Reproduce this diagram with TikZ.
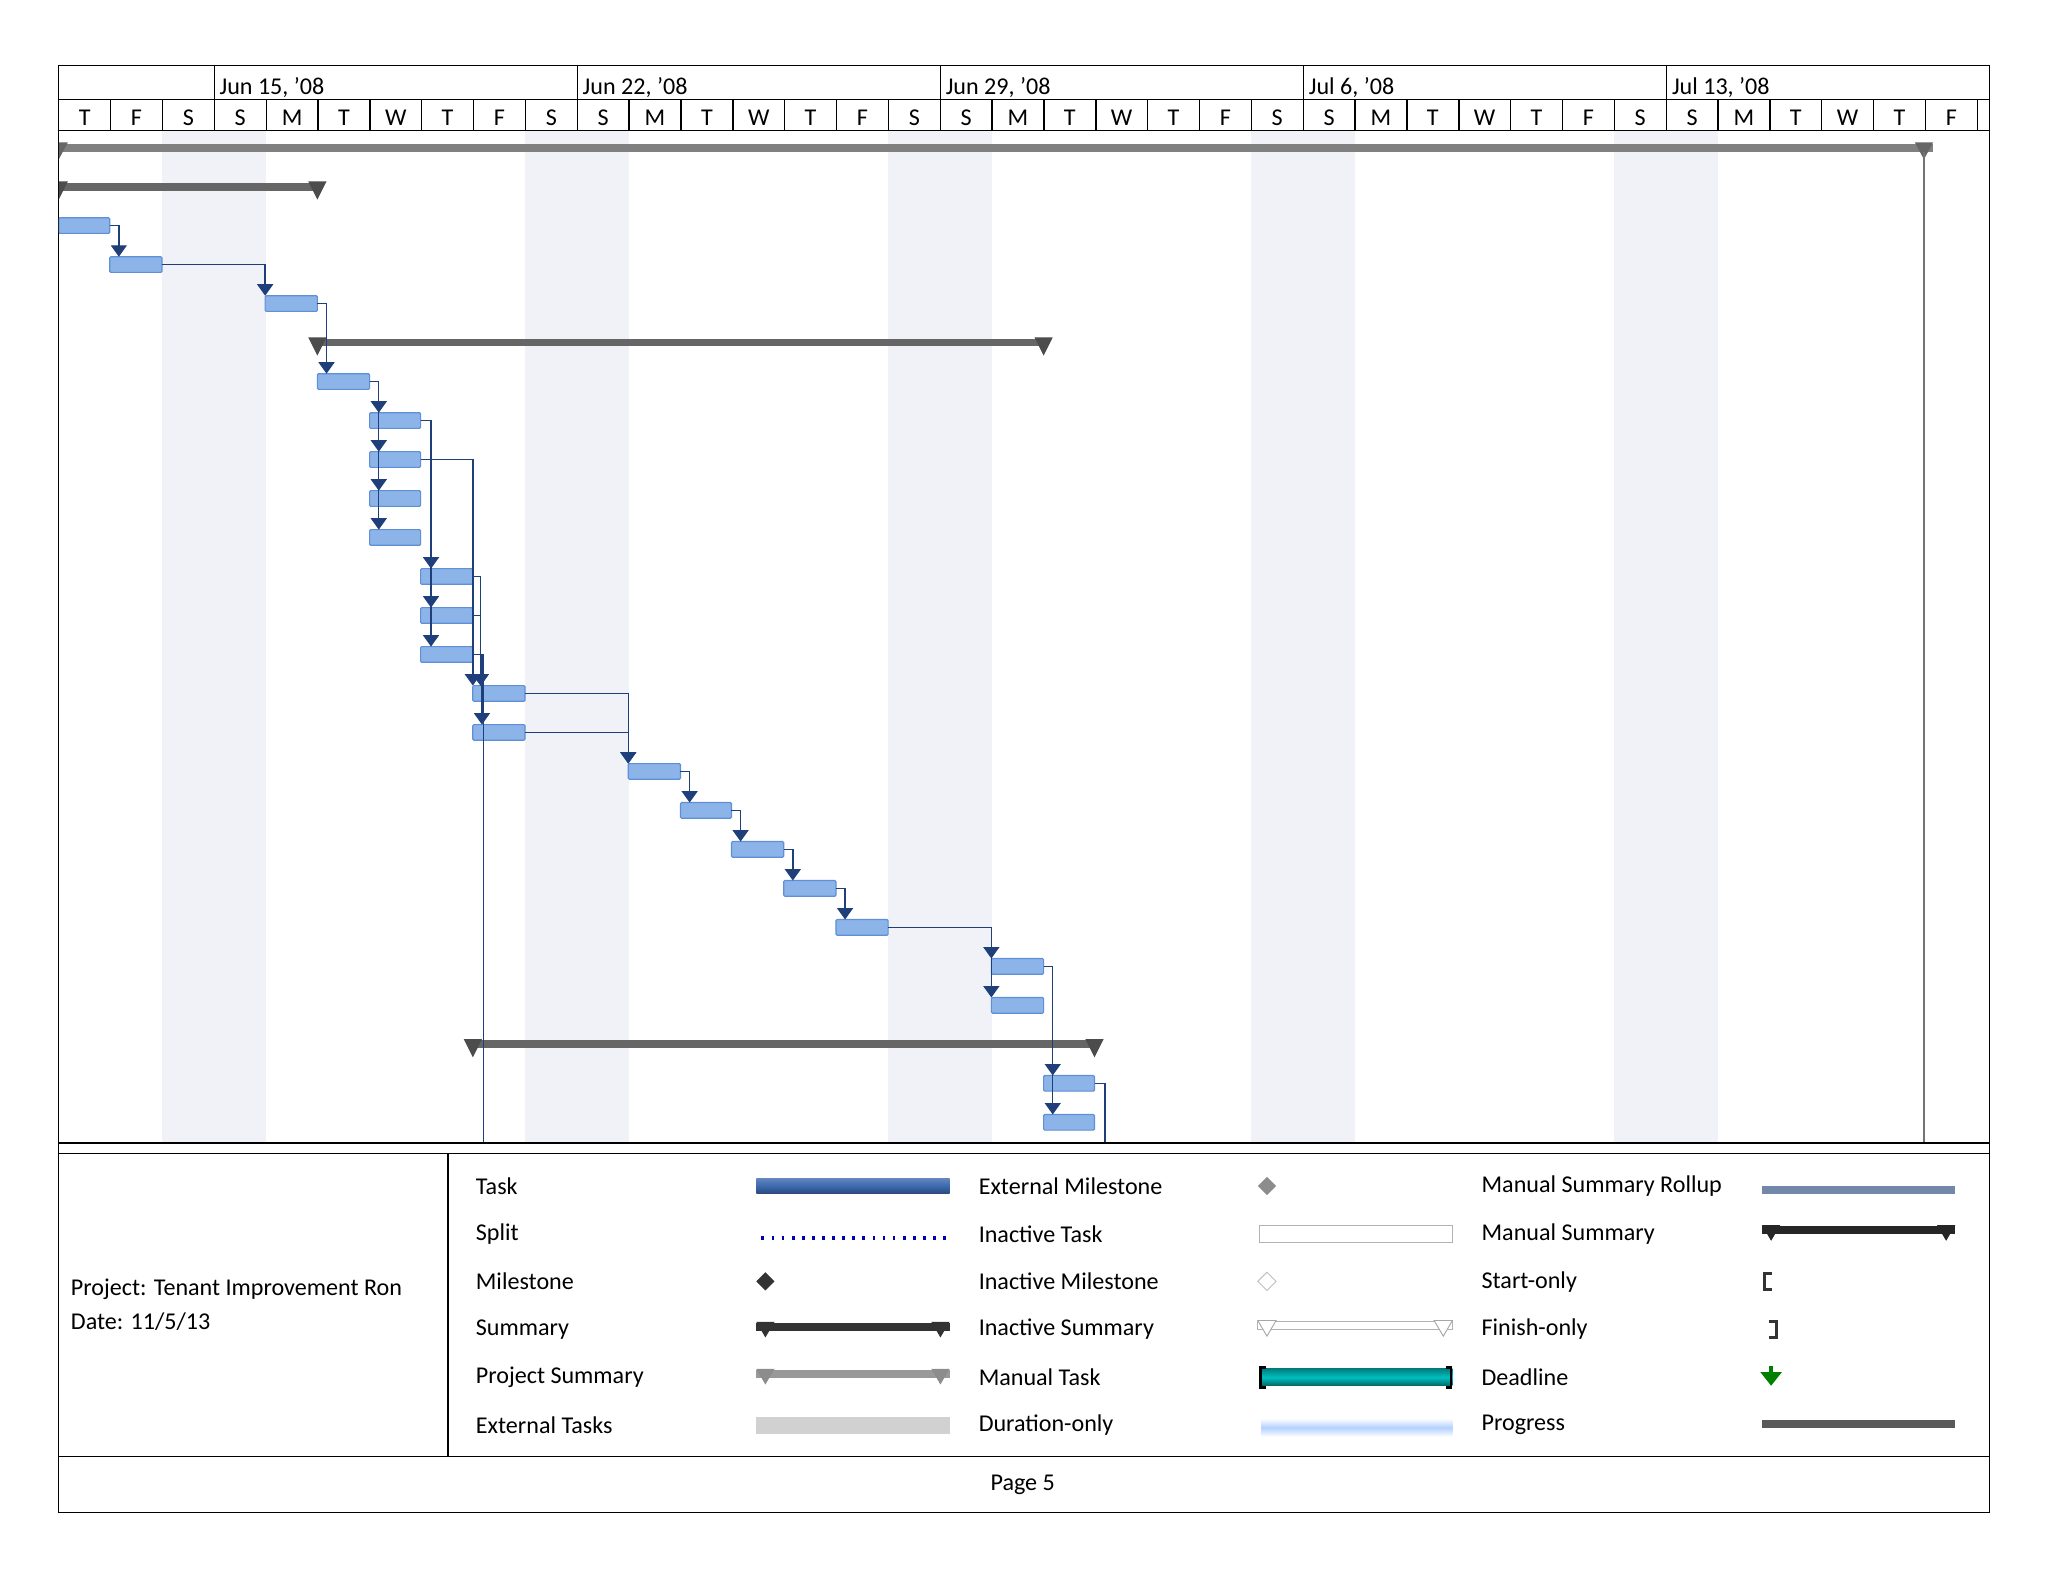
\documentclass[tikz,border=0pt]{standalone}
\usepackage{fontspec}
\setmainfont{Carlito}
\usetikzlibrary{arrows.meta}
\definecolor{taskfill}{HTML}{8DB4E8}
\definecolor{taskdraw}{HTML}{5F8FD6}
\definecolor{linkcol}{HTML}{1F3F7A}
\definecolor{wkendcol}{HTML}{F0F2F8}
\definecolor{legtask}{HTML}{3C68AE}
\definecolor{rollup}{HTML}{7388A8}
\begin{document}
\begin{tikzpicture}[x=0.02cm,y=-0.02cm,font=\fontsize{10.5}{12}\selectfont]
	 \tikzset{
	 	taskbar/.style={fill=taskfill, draw=taskdraw, line width=0.5pt, rounded corners=0.5pt},
	 	link/.style={draw=linkcol, line width=0.6pt, -{Triangle[width=7pt,length=5pt]}},
	 	grid line/.style={black, line width=0.6pt}
	 }
	 \def\ry#1{(113+29.85*#1)}
	 \newcommand\task[3]{\draw[taskbar] (#2,{\ry{#1}-6}) rectangle (#3,{\ry{#1}+6});}
	 \newcommand\summ[3]{
	 	\fill[black!60] (#2,{\ry{#1}-3}) rectangle (#3,{\ry{#1}+3});
	 	\fill[black!70] (#2-7,{\ry{#1}-4}) -- (#2+7,{\ry{#1}-4}) -- (#2,{\ry{#1}+10}) -- cycle;
	 	\fill[black!70] (#3-7,{\ry{#1}-4}) -- (#3+7,{\ry{#1}-4}) -- (#3,{\ry{#1}+10}) -- cycle;}
	 \newcommand\lnk[4]{\draw[link] (#2,{\ry{#1}}) -| (#3,{\ry{#4}-6});}
 
	 \useasboundingbox (0,0) rectangle (1568,1208);
	 % weekend shading
	 \foreach \d in {2,9,16,23,30}
	 \fill[wkendcol] ({45+39.7*\d},100) rectangle ({45+39.7*(\d+2)},875);
	 % timescale
	 \draw[grid line] (45,50) rectangle (1523,1158);
	 \draw[grid line] (45,76) -- (1523,76);
	 \draw[grid line] (45,100) -- (1523,100);
	 \foreach \w/\lab in {0/{Jun 15, \symbol{39}08},1/{Jun 22, \symbol{39}08},2/{Jun 29, \symbol{39}08},3/{Jul 6, \symbol{39}08},4/{Jul 13, \symbol{39}08}}{
	 	\draw[grid line] ({164+278*\w},50) -- ({164+278*\w},76);
	 	\node[anchor=south west, inner sep=1pt] at ({166+278*\w},77) {\lab};}
	 \foreach \lab [count=\i from 0] in {T,F,S,S,M,T,W,T,F,S,S,M,T,W,T,F,S,S,M,T,W,T,F,S,S,M,T,W,T,F,S,S,M,T,W,T,F}{
	 	\node at ({64.8+39.7*\i},90) {\lab};
	 	\draw[grid line] ({84.7+39.7*\i},76) -- ({84.7+39.7*\i},100);}
	 % project summary
	 \begin{scope}
	 	\clip (45,100) rectangle (1523,875);
	 	\fill[black!50] (45,110) rectangle (1480,116);
	 	\fill[black!60] (1466,109) -- (1480,109) -- (1473,122) -- cycle;
	 	\fill[black!60] (38,109) -- (52,109) -- (45,122) -- cycle;
	 	\draw[black!55, line width=0.8pt] (1473,116) -- (1473,875);
	 	\summ{1}{45}{243}
	 	\summ{5}{243}{799}
	 	\summ{23}{362}{838}
	 	% tasks
	 	\task{2}{45}{84} \task{3}{84}{124} \task{4}{203}{243} \task{6}{243}{283}
	 	\foreach \r in {7,...,10} {\task{\r}{283}{322}}
	 	\foreach \r in {11,12,13} {\task{\r}{322}{362}}
	 	\task{14}{362}{402} \task{15}{362}{402}
	 	\task{16}{481}{521} \task{17}{521}{560} \task{18}{560}{600}
	 	\task{19}{600}{640} \task{20}{640}{680}
	 	\task{21}{759}{799} \task{22}{759}{799}
	 	\task{24}{799}{838} \task{25}{799}{838}
	 	% links
	 	\lnk{2}{84}{91}{3} \lnk{3}{124}{203}{4} \lnk{4}{243}{250}{6}
	 	\foreach \r in {7,...,10} {\lnk{6}{283}{290}{\r}}
	 	\foreach \r in {11,12,13} {\lnk{7}{322}{330}{\r}}
	 	\lnk{8}{322}{362}{14}
	 	\foreach \r in {11,12,13} {\lnk{\r}{362}{368}{14}}
	 	\lnk{13}{362}{369}{15}
	 	\draw[linkcol, line width=0.6pt] (362,{\ry{13}}) -| (370,875);
	 	\lnk{14}{402}{481}{16} \lnk{15}{402}{481}{16}
	 	\lnk{16}{521}{528}{17} \lnk{17}{560}{567}{18} \lnk{18}{600}{607}{19}
	 	\lnk{19}{640}{647}{20}
	 	\lnk{20}{680}{759}{21} \lnk{20}{680}{759}{22}
	 	\lnk{21}{799}{806}{24} \lnk{21}{799}{806}{25}
	 	\draw[linkcol, line width=0.6pt] (838,{\ry{24}}) -| (846,875);
	 \end{scope}
	 % legend
	 \draw[grid line] (45,875) -- (1523,875);
	 \draw[grid line] (45,883) -- (1523,883);
	 \draw[grid line] (45,1115) -- (1523,1115);
	 \draw[grid line] (343,883) -- (343,1115);
	 \node[anchor=west, inner sep=0pt] (proj) at (54,987) {Project: Tenant Improvement Ron};
	 \node[anchor=west, inner sep=0pt] (date) at (54,1012) {Date: 11/5/13};
	 \foreach \lab [count=\i from 0] in {Task,Split,Milestone,Summary,Project Summary,External Tasks}
	 \node[anchor=west, inner sep=0pt] at (364,{908+36.6*\i}) {\lab};
	 \foreach \lab [count=\i from 0] in {External Milestone,Inactive Task,Inactive Milestone,Inactive Summary,Manual Task,Duration-only}
	 \node[anchor=west, inner sep=0pt] at (749,{908+36.6*\i}) {\lab};
	 \foreach \lab [count=\i from 0] in {Manual Summary Rollup,Manual Summary,Start-only,Finish-only,Deadline,Progress}
	 \node[anchor=west, inner sep=0pt] at (1134,{908+36.6*\i}) {\lab};
	 % legend symbols, column 1
	 \shade[top color=legtask!80, bottom color=legtask!70!black, middle color=legtask] (579,902) rectangle (727,914);
	 \draw[blue!70!black, line width=1.6pt, dash pattern=on 1.2pt off 3.2pt] (583,948) -- (727,948);
	 \fill[black!80] (586,974) -- (593,981) -- (586,988) -- (579,981) -- cycle;
	 \fill[black!80] (579,1013) rectangle (727,1019);
	 \fill[black!80] (579,1012) -- (593,1012) -- (586,1024) -- cycle;
	 \fill[black!80] (713,1012) -- (727,1012) -- (720,1024) -- cycle;
	 \fill[black!40] (579,1049) rectangle (727,1055);
	 \fill[black!45] (579,1048) -- (593,1048) -- (586,1060) -- cycle;
	 \fill[black!45] (713,1048) -- (727,1048) -- (720,1060) -- cycle;
	 \fill[black!18] (579,1085) rectangle (727,1098);
	 % column 2
	 \fill[black!45] (970,901) -- (977,908) -- (970,915) -- (963,908) -- cycle;
	 \draw[black!30] (964,938) rectangle (1112,951);
	 \draw[black!25] (970,974) -- (977,981) -- (970,988) -- (963,981) -- cycle;
	 \draw[black!30] (963,1012) rectangle (1112,1018);
	 \draw[black!35, fill=white] (963,1011) -- (977,1011) -- (970,1023) -- cycle;
	 \draw[black!35, fill=white] (1098,1011) -- (1112,1011) -- (1105,1023) -- cycle;
	 \shade[top color=cyan!50!black, bottom color=cyan!40!black, middle color=cyan!50!teal] (964,1048) rectangle (1112,1061);
	 \draw[black, line width=1.2pt] (969,1047) -- (965,1047) -- (965,1062) -- (969,1062);
	 \draw[black, line width=1.2pt] (1107,1047) -- (1111,1047) -- (1111,1062) -- (1107,1062);
	 \shade[top color=white, bottom color=white, middle color=cyan!40!blue!30] (966,1086) rectangle (1112,1100);
	 % column 3
	 \fill[rollup] (1349,908) rectangle (1497,914);
	 \fill[black!85] (1349,939) rectangle (1497,945);
	 \fill[black!85] (1349,938) -- (1363,938) -- (1356,950) -- cycle;
	 \fill[black!85] (1483,938) -- (1497,938) -- (1490,950) -- cycle;
	 \draw[black!80, line width=1.4pt] (1357,975) -- (1351,975) -- (1351,987) -- (1357,987);
	 \draw[black!80, line width=1.4pt] (1354,1012) -- (1360,1012) -- (1360,1024) -- (1354,1024);
	 \draw[green!50!black, line width=2pt, -{Triangle[width=9pt,length=6pt]}] (1356,1046) -- (1356,1061);
	 \fill[black!65] (1349,1087) rectangle (1497,1093);
	 % footer
	 \node (page) at (783,1137) {Page 5};
\end{tikzpicture}
\end{document}
